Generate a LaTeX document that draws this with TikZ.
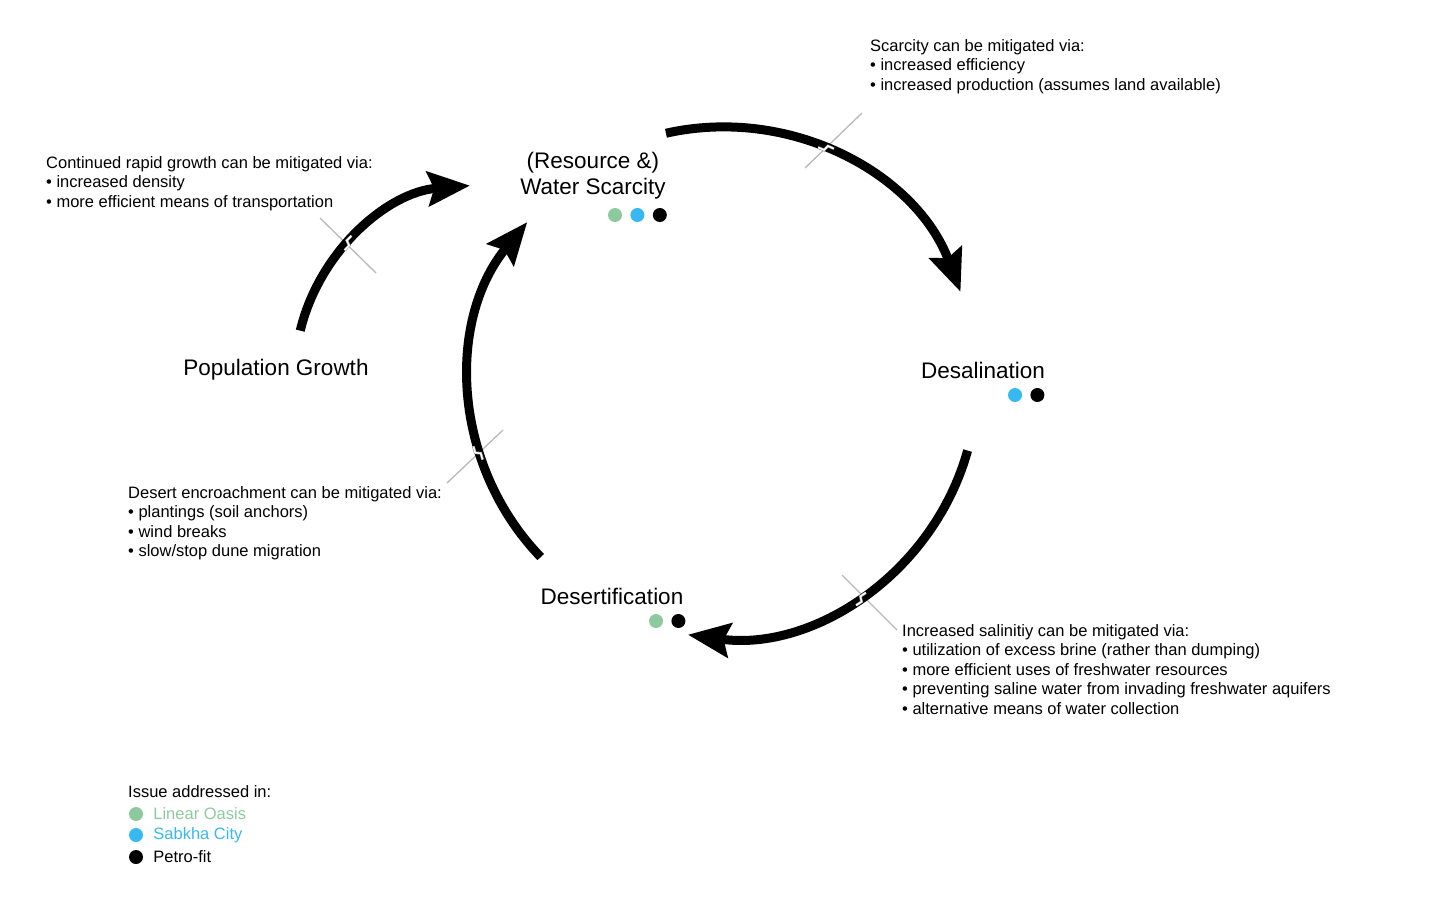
\documentclass[tikz,border=0pt]{standalone}
\usepackage{fontspec}
\setmainfont{Liberation Sans}
\usetikzlibrary{arrows.meta, positioning}

\definecolor{oasisgreen}{RGB}{140,202,158}
\definecolor{sabkhablue}{RGB}{56,184,240}

\begin{document}
\begin{tikzpicture}[
  x=1pt, y=-1pt,
  >={Stealth[length=42pt, width=34pt, inset=6pt]},
  loop/.style={line width=9pt, ->},
  title/.style={font=\fontsize{22.5}{26}\selectfont, align=center, inner sep=0pt},
  note/.style={font=\fontsize{16.5}{19.6}\selectfont, align=left, anchor=north west, inner sep=0pt},
  dot/.style={circle, fill=#1, minimum size=14pt, inner sep=0pt},
  leader/.style={draw=black!28, line width=1.3pt},
  brk/.style={draw=black!40, line width=0.6pt, double=white, double distance=1.5pt},
]
  \useasboundingbox (0,0) rectangle (1440,903);

  % stages
  \node[title] (scarcity) at (593,176) {(Resource \&)\\Water Scarcity};
  \node[title] (desal) at (983,370) {Desalination};
  \node[title] (desert) at (612,596) {Desertification};
  \node[title] (growth) at (276,370) {Population Growth};

  % dots: which project takes the issue on
  \node[dot=oasisgreen] (ws1) at (615,215) {};
  \node[dot=sabkhablue, right=8pt of ws1] (ws2) {};
  \node[dot=black, right=8pt of ws2] (ws3) {};
  \node[dot=sabkhablue] (ds1) at (1015,395) {};
  \node[dot=black, right=8pt of ds1] (ds2) {};
  \node[dot=oasisgreen] (df1) at (656,621) {};
  \node[dot=black, right=8pt of df1] (df2) {};

  % notes
  \node[note] (n-scarcity) at (870,39) {Scarcity can be mitigated via:\\
    • increased efficiency\\
    • increased production (assumes land available)};
  \node[note] (n-growth) at (46,156) {Continued rapid growth can be mitigated via:\\
    • increased density\\
    • more efficient means of transportation};
  \node[note] (n-desert) at (128,486) {Desert encroachment can be mitigated via:\\
    • plantings (soil anchors)\\
    • wind breaks\\
    • slow/stop dune migration};
  \node[note] (n-salt) at (902,624) {Increased salinitiy can be mitigated via:\\
    • utilization of excess brine (rather than dumping)\\
    • more efficient uses of freshwater resources\\
    • preventing saline water from invading freshwater aquifers\\
    • alternative means of water collection};

  % leaders
  \coordinate (l1a) at (805,168); \coordinate (l1b) at (862,113);
  \coordinate (l2a) at (320,218); \coordinate (l2b) at (376,273);
  \coordinate (l3a) at (447,483); \coordinate (l3b) at (503,430);
  \coordinate (l4a) at (842,575); \coordinate (l4b) at (897,630);
  \draw[leader] (l1a) -- (l1b);
  \draw[leader] (l2a) -- (l2b);
  \draw[leader] (l3a) -- (l3b);
  \draw[leader] (l4a) -- (l4b);

  % cycle arrows
  \coordinate (hub) at (722,382);
  \coordinate (hub2) at (485,375);
  \draw[loop] ([shift={(-102.7:255)}]hub) arc[start angle=-102.7, end angle=-20.7, radius=255];
  \draw[loop] ([shift={(15.6:255)}]hub) arc[start angle=15.6, end angle=97.7, radius=255];
  \draw[loop] ([shift={(136:252)}]hub) arc[start angle=136, end angle=219.4, radius=252];
  \draw[loop] ([shift={(193.5:190)}]hub2) arc[start angle=193.5, end angle=265.5, radius=190];

  % breaks where the leaders cross
  \foreach \px/\py/\ang in {826/148/24, 348/243/-46, 478/453/-106, 861/599/147}
    \draw[brk, shift={(\px,\py)}, rotate=-\ang]
      (-7.5,2.6) -- (-1,2.6) -- (1,-2.6) -- (7.5,-2.6);

  % legend
  \node[note, anchor=base west] (key) at (128,797) {Issue addressed in:};
  \node[dot=oasisgreen] (k1) at (136,814) {};
  \node[dot=sabkhablue] (k2) at (136,835) {};
  \node[dot=black] (k3) at (136,857) {};
  \node[note, anchor=west, right=10pt of k1, text=oasisgreen] (k1t) {Linear Oasis};
  \node[note, anchor=west, right=10pt of k2, text=sabkhablue] (k2t) {Sabkha City};
  \node[note, anchor=west, right=10pt of k3] (k3t) {Petro-fit};
\end{tikzpicture}
\end{document}
